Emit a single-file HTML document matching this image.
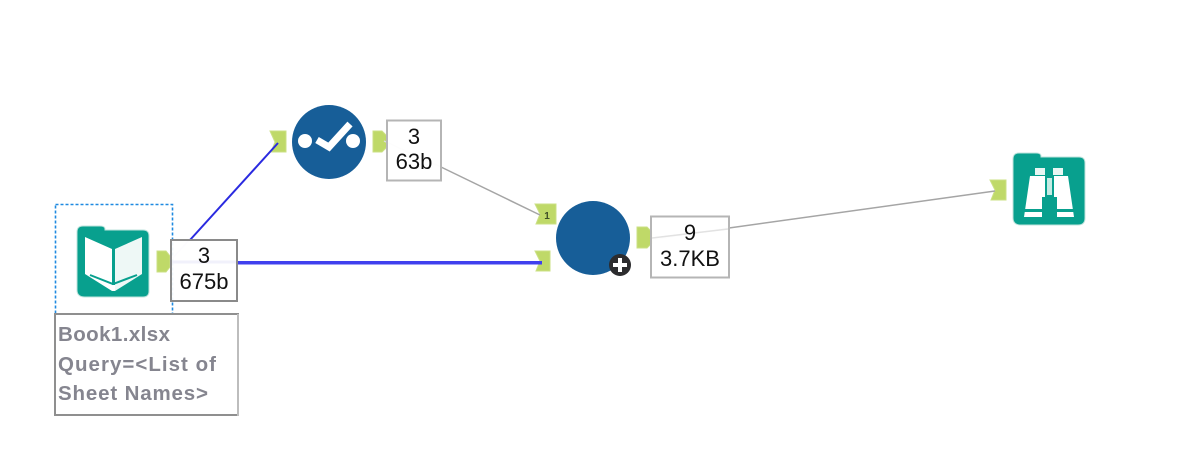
<!DOCTYPE html>
<html>
<head>
<meta charset="utf-8">
<style>
html,body{margin:0;padding:0;background:#fff;width:1190px;height:470px;overflow:hidden}
svg{display:block}
.n{font-family:"Liberation Sans",sans-serif;font-size:22px;fill:#111;text-anchor:middle}
.l{font-family:"Liberation Sans",sans-serif;font-size:20.5px;font-weight:bold;fill:#85858f}
</style>
</head>
<body>
<svg width="1190" height="470" viewBox="0 0 1190 470" xmlns="http://www.w3.org/2000/svg">
<!-- selection -->
<rect x="55.5" y="204.5" width="117" height="110" fill="none" stroke="#1f8ae0" stroke-width="1.6" stroke-dasharray="3 2"/>

<!-- input anchors -->
<path d="M270 131H286V152H271L275 142Z" fill="#bfd968" stroke="#cbe084" stroke-width="1"/>
<path d="M535 204H556V224H536L540 214Z" fill="#bfd968" stroke="#cbe084" stroke-width="1"/>
<text x="547" y="219" font-family="Liberation Sans,sans-serif" font-size="10" font-weight="bold" fill="#3f4f28" text-anchor="middle">1</text>
<path d="M535 251H550V271H536L540 261Z" fill="#bfd968" stroke="#cbe084" stroke-width="1"/>
<path d="M990 180H1006V200H991L995 190Z" fill="#bfd968" stroke="#cbe084" stroke-width="1"/>

<!-- output anchors -->
<path d="M157 251H166L170 256V267L166 272H157Z" fill="#bfd968" stroke="#cbe084" stroke-width="1"/>
<path d="M373 131H382L387 136V147L382 152H373Z" fill="#bfd968" stroke="#cbe084" stroke-width="1"/>
<path d="M637 227H647L652 232V243L647 248H637Z" fill="#bfd968" stroke="#cbe084" stroke-width="1"/>

<!-- connectors -->
<line x1="171" y1="260" x2="190" y2="239" stroke="#d8d4f4" stroke-width="1.5"/>
<line x1="190" y1="240" x2="278" y2="143" stroke="#2a2ae0" stroke-width="2"/>
<rect x="237" y="261" width="305" height="3.500" fill="#4040ee"/>
<line x1="384" y1="141" x2="441" y2="167" stroke="#dcdcdc" stroke-width="1.500"/>
<line x1="441" y1="167" x2="540" y2="215" stroke="#a5a5a5" stroke-width="1.500"/>
<line x1="650" y1="240" x2="729" y2="228" stroke="#dddddd" stroke-width="1.500"/>
<line x1="729" y1="228" x2="995" y2="191" stroke="#a5a5a5" stroke-width="1.500"/>

<!-- book tool -->
<path d="M77 232Q77 226 83 226H100Q105 226 105 229V230H143Q149 230 149 236V291Q149 297 143 297H85Q77 297 77 290Z" fill="#08a08e" stroke="#bfe3dc" stroke-width="1"/>
<path d="M85 237L112 249V291L85 274Z" fill="#fff"/>
<path d="M142 237L115 249V291L142 274Z" fill="#eef8f6"/>
<path d="M112 285H115V291H112Z" fill="#fff"/>
<path d="M90 275L113 284L137 275" fill="none" stroke="#08a08e" stroke-width="2"/>

<!-- check tool -->
<circle cx="329" cy="142" r="37" fill="#175e98"/>
<circle cx="305" cy="141" r="7" fill="#fff"/>
<circle cx="353" cy="141" r="7" fill="#fff"/>
<path d="M317 140L329 147L350 124" fill="none" stroke="#fff" stroke-width="7"/>

<!-- union tool -->
<circle cx="593" cy="238" r="37" fill="#175e98"/>
<circle cx="620" cy="265" r="11" fill="#2c2c2e"/>
<path d="M620 258V272M613 265H627" stroke="#fff" stroke-width="4"/>

<!-- browse tool -->
<path d="M1013 159Q1013 153 1019 153H1036Q1041 153 1041 156V157H1079Q1085 157 1085 163V218Q1085 225 1078 225H1021Q1013 225 1013 218Z" fill="#08a08e" stroke="#bfe3dc" stroke-width="1"/>
<rect x="1035" y="168" width="10" height="7" fill="#e8f6f3"/>
<rect x="1053" y="168" width="10" height="7" fill="#e8f6f3"/>
<path d="M1030 176H1045V197H1042V217H1024Z" fill="#fff"/>
<path d="M1068 176H1054V197H1057V217H1074Z" fill="#fff"/>
<rect x="1047" y="178" width="5" height="17" fill="#c5ebe4"/>
<rect x="1024" y="209" width="18" height="3" fill="#08a08e"/>
<rect x="1057" y="209" width="17" height="3" fill="#08a08e"/>

<!-- record boxes -->
<rect x="171" y="240" width="66" height="61" fill="#fff" fill-opacity=".93" stroke="#8a8a8a" stroke-width="2"/>
<line x1="172" y1="262" x2="236" y2="262" stroke="#f1f1fb" stroke-width="3"/>
<text class="n" x="204" y="263">3</text>
<text class="n" x="204" y="289">675b</text>

<rect x="387" y="120.500" width="54" height="60" fill="#fff" fill-opacity=".93" stroke="#b5b5b5" stroke-width="2"/>
<text class="n" x="414" y="144">3</text>
<text class="n" x="414" y="169">63b</text>

<rect x="651" y="216.500" width="78" height="61" fill="#fff" fill-opacity=".93" stroke="#b5b5b5" stroke-width="2"/>
<line x1="652" y1="238" x2="728" y2="229" stroke="#e2e2e2" stroke-width="1.500"/>
<text class="n" x="690" y="240">9</text>
<text class="n" x="690" y="266">3.7KB</text>

<!-- annotation -->
<rect x="55" y="314" width="183" height="101" fill="#fff" stroke="#8f8f8f" stroke-width="2"/>
<line x1="238" y1="314" x2="238" y2="416" stroke="#bdbdbd" stroke-width="2"/>
<text class="l" x="58" y="341" textLength="112" lengthAdjust="spacing">Book1.xlsx</text>
<text class="l" x="58" y="371" textLength="158" lengthAdjust="spacing">Query=&lt;List of</text>
<text class="l" x="58" y="400" textLength="150" lengthAdjust="spacing">Sheet Names&gt;</text>
</svg>
</body>
</html>
